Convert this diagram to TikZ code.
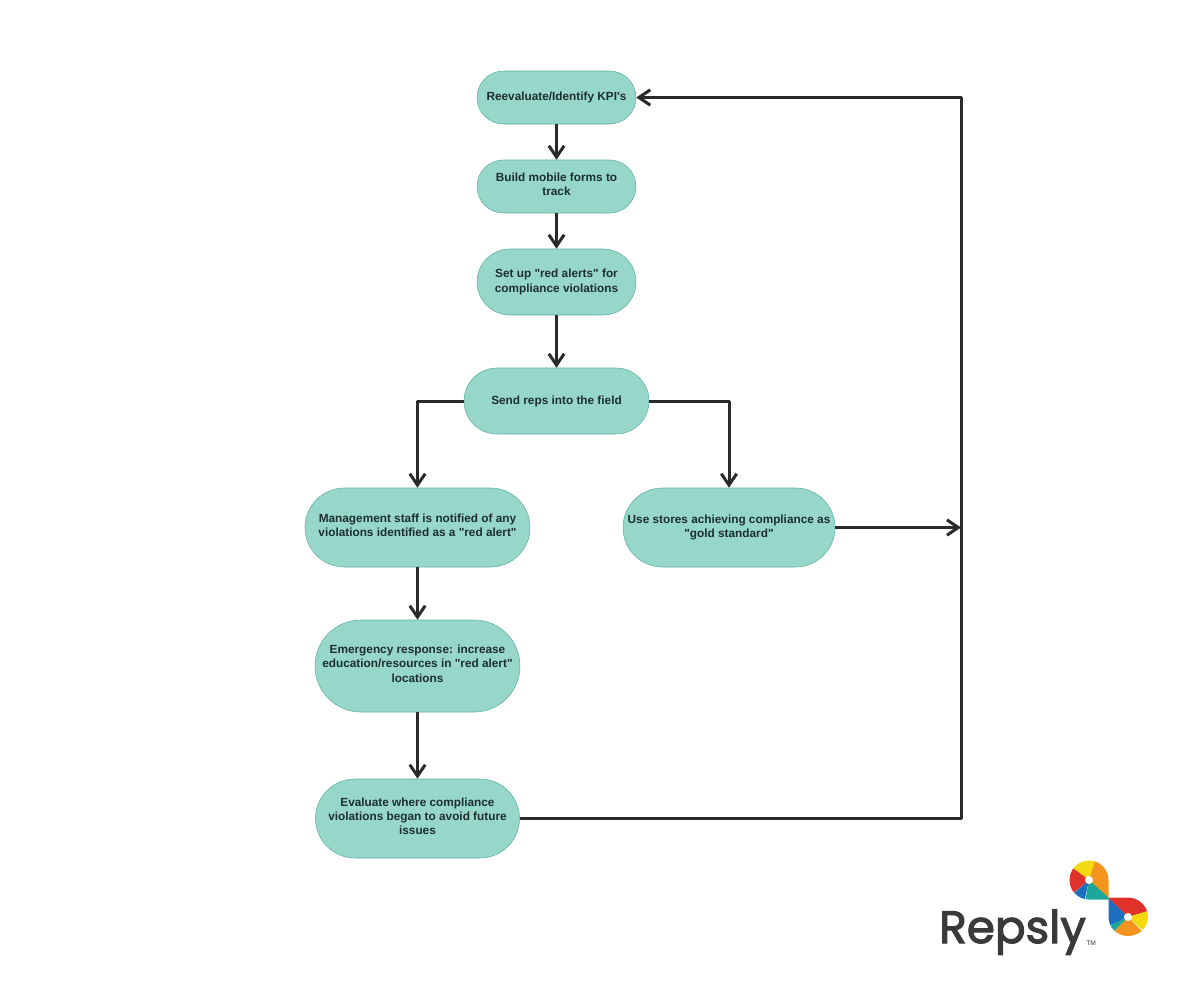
\documentclass[tikz,border=0pt]{standalone}
\usepackage{fontspec}
\newfontfamily\labelfont{Liberation Sans}
\newfontfamily\logofont[FakeBold=2.4]{Poppins}
\usetikzlibrary{arrows.meta}
\definecolor{nodefill}{HTML}{97D7CA}
\definecolor{nodeedge}{HTML}{5FB0A0}
\definecolor{ink}{HTML}{2A2A2C}
\definecolor{logoink}{HTML}{3A3A3C}
\definecolor{labelink}{HTML}{1C2F2D}
\definecolor{lyellow}{HTML}{F5D90F}
\definecolor{lorange}{HTML}{F3941F}
\definecolor{lteal}{HTML}{1DA79A}
\definecolor{lblue}{HTML}{1A6FC0}
\definecolor{lred}{HTML}{E0312A}
\tikzset{
  flowbox/.style n args={2}{draw=nodeedge,line width=0.4pt,fill=nodefill,
    minimum width=#1*0.75pt,minimum height=#2*0.75pt,rounded corners=#2*0.375pt-0.01pt,
    inner sep=0pt,align=center,text=labelink,
    font=\labelfont\fontsize{8.85pt}{10.7pt}\selectfont\bfseries},
  liftsmall/.style={text depth=3.2pt},
  liftlarge/.style={text depth=3.6pt},
  flow/.style={draw=ink,line width=2.25pt,line join=round},
  flowarrow/.style={flow,-{Straight Barb[length=8.5pt,width=11.5pt,line width=2.25pt]}}
}
\begin{document}
\begin{tikzpicture}[x=0.75pt,y=-0.75pt]
\useasboundingbox (0,0) rectangle (1200,993);
\fill[white] (0,0) rectangle (1200,993);
\node[flowbox={159}{53}] (a) at (556.5,97.5) {Reevaluate/Identify KPI's};
\node[flowbox={159}{53},liftsmall] (b) at (556.5,186.5) {Build mobile forms to\\track};
\node[flowbox={159}{66}] (c) at (556.5,282) {Set up "red alerts" for\\compliance violations};
\node[flowbox={185}{66}] (d) at (556.5,401) {Send reps into the field};
\node[flowbox={225}{79},liftsmall] (e) at (417.5,527.5) {Management staff is notified of any\\violations identified as a "red alert"};
\node[flowbox={212}{79}] (f) at (729,527.5) {Use stores achieving compliance as\\"gold standard"};
\node[flowbox={205}{92},liftlarge] (g) at (417.5,666) {Emergency response: increase\\education/resources in "red alert"\\locations};
\node[flowbox={204}{79},liftlarge] (h) at (417.5,818.5) {Evaluate where compliance\\violations began to avoid future\\issues};
\coordinate (rtop) at (961,97.5);
\coordinate (rmid) at (961,527.5);
\coordinate (rbot) at (961,818.5);
\draw[flowarrow] (a.south) -- (b.north);
\draw[flowarrow] (b.south) -- (c.north);
\draw[flowarrow] (c.south) -- (d.north);
\draw[flowarrow] (d.west) -| (e.north);
\draw[flowarrow] (d.east) -| (f.north);
\draw[flowarrow] (e.south) -- (g.north);
\draw[flowarrow] (g.south) -- (h.north);
\draw[flowarrow] (f.east) -- (rmid);
\draw[flowarrow] (h.east) -- (rbot) -- (rtop) -- (a.east);
% logo
\begin{scope}
\clip (1108.5,880) -- (1108.5,899.5) -- (1089,899.5)
  .. controls (1078.2,899.5) and (1069.5,890.8) .. (1069.5,880)
  .. controls (1069.5,869.2) and (1078.2,860.5) .. (1089,860.5)
  .. controls (1099.8,860.5) and (1108.5,869.2) .. (1108.5,880) -- cycle;
\fill[lorange] (1089,880) -- (1096,850) -- (1130,850) -- (1130,920) -- cycle;
\fill[lyellow] (1089,880) -- (1055,855) -- (1075,845) -- (1100,845) -- cycle;
\fill[lteal] (1089,880) -- (1130,917) -- (1080,930) -- cycle;
\fill[lblue] (1089,880) -- (1082,912) -- (1060,905) -- cycle;
\fill[lred] (1089,880) -- (1060,904) -- (1050,880) -- (1055,855) -- cycle;
\end{scope}
\begin{scope}
\clip (1108.5,897.5) -- (1128,897.5)
  .. controls (1139,897.5) and (1148,906.5) .. (1148,917)
  .. controls (1148,927.5) and (1139,936) .. (1128,936)
  .. controls (1117,936) and (1108.5,927.5) .. (1108.5,917) -- cycle;
\fill[lred] (1128,917) -- (1090,880) -- (1160,880) -- (1165,906) -- cycle;
\fill[lyellow] (1128,917) -- (1165,906) -- (1165,950) -- cycle;
\fill[lorange] (1128,917) -- (1160,949) -- (1100,950) -- (1105,940) -- cycle;
\fill[lteal] (1128,917) -- (1105,940) -- (1095,932) -- cycle;
\fill[lblue] (1128,917) -- (1095,932) -- (1090,880) -- cycle;
\end{scope}
\fill[white] (1089,880) circle[radius=4];
\fill[white] (1128,917) circle[radius=4];
\node[anchor=base west,inner sep=0pt,text=logoink,font=\logofont\fontsize{34pt}{34pt}\selectfont] (logo) at (939,943) {Repsly};
\node[anchor=base west,inner sep=0pt,text=logoink,font=\labelfont\fontsize{5pt}{5pt}\selectfont] (tm) at (1086,945) {TM};
\end{tikzpicture}
\end{document}
